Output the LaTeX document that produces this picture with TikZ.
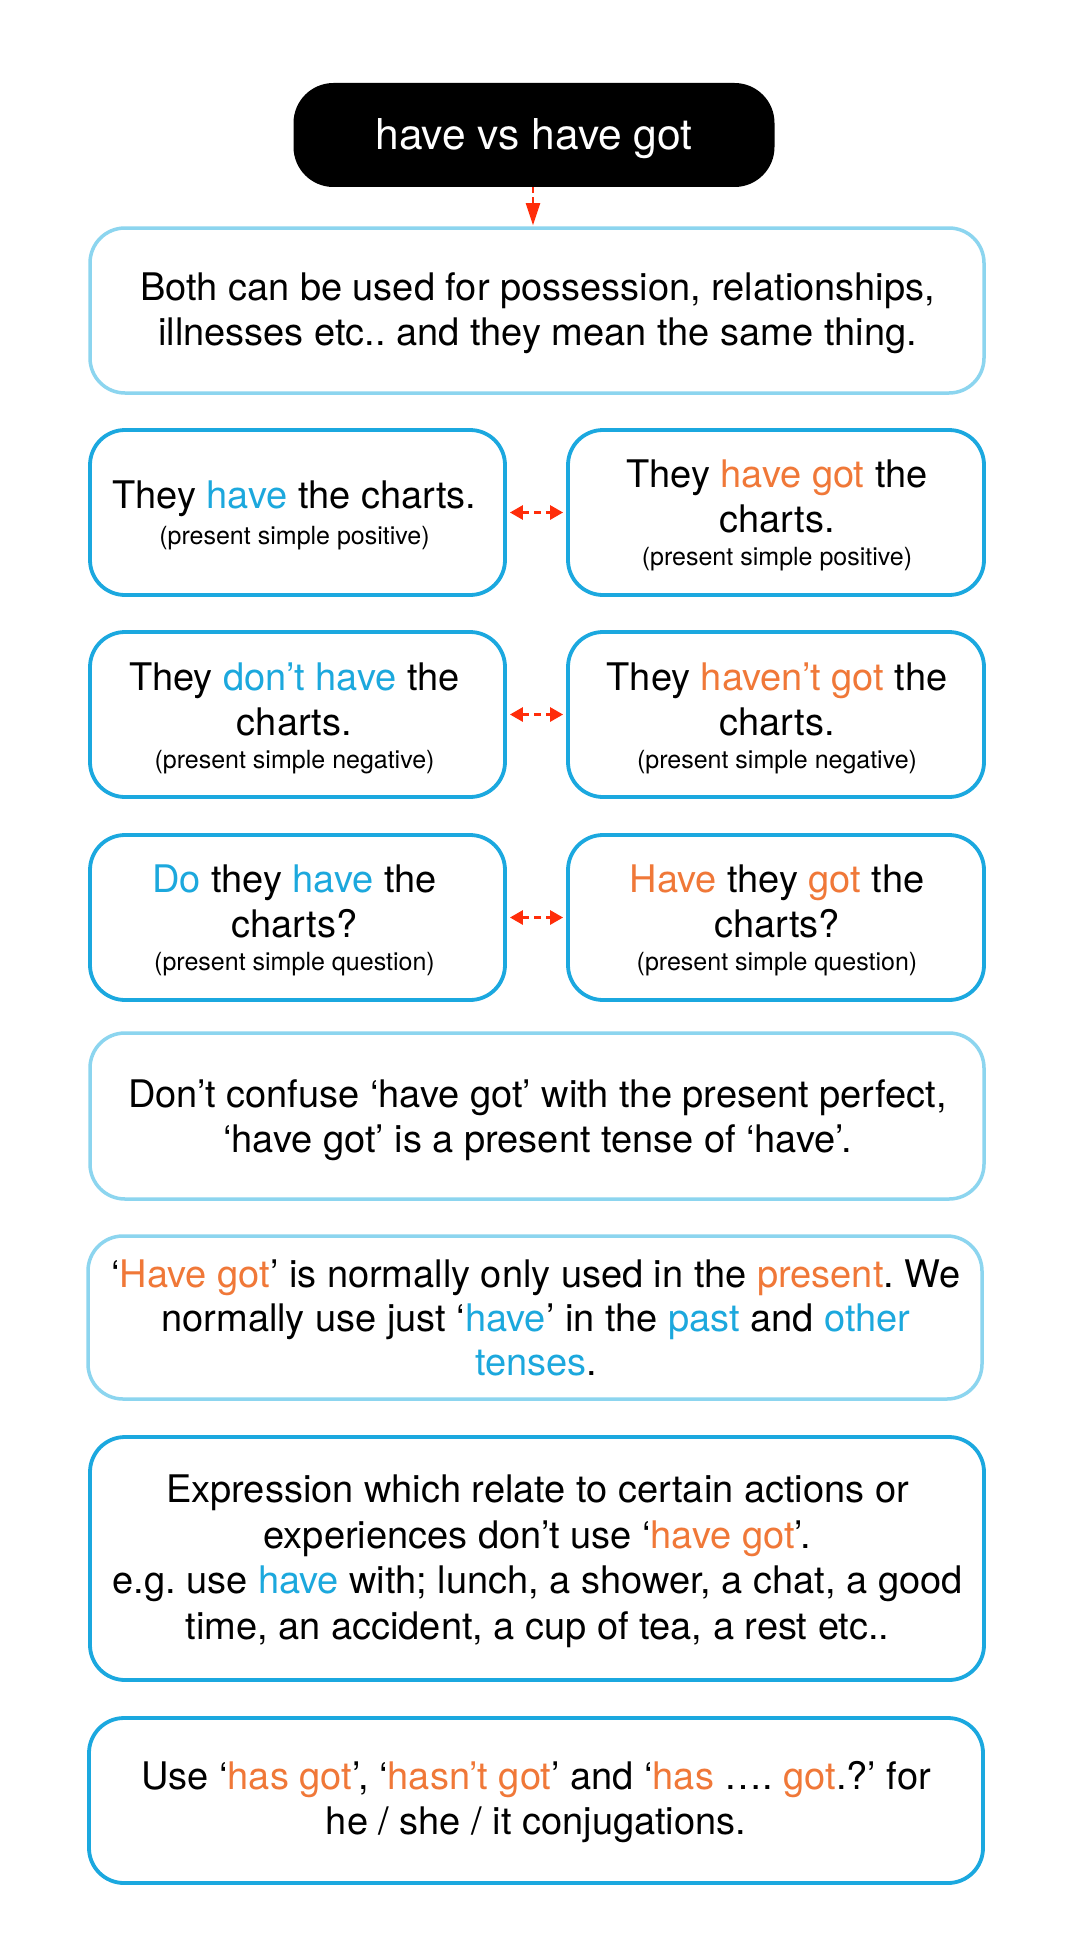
\documentclass[tikz,border=0pt]{standalone}
\usepackage{fontspec}
\setmainfont{TeX Gyre Heros}
\usetikzlibrary{arrows.meta}
\definecolor{lblue}{HTML}{8CD5EF}
\definecolor{dblue}{HTML}{1BA8DF}
\definecolor{tblue}{HTML}{1CA8DD}
\definecolor{orng}{HTML}{F07838}
\definecolor{arrred}{HTML}{FF2D0A}
\newcommand{\hlB}[1]{\textcolor{tblue}{#1}}
\newcommand{\hlO}[1]{\textcolor{orng}{#1}}
\tikzset{
  lbox/.style={draw=lblue, line width=3.5pt, rounded corners=35pt, fill=white},
  dbox/.style={draw=dblue, line width=3.8pt, rounded corners=35pt, fill=white},
  titlebox/.style={fill=black, rounded corners=40pt, inner sep=0pt},
  mtxt/.style={anchor=base, inner sep=0pt, font=\fontsize{38pt}{45pt}\selectfont},
  stxt/.style={anchor=base, inner sep=0pt, font=\fontsize{25pt}{30pt}\selectfont},
  ttxt/.style={anchor=base, inner sep=0pt, text=white, font=\fontsize{42.5pt}{50pt}\selectfont},
  dblarr/.style={draw=arrred, line width=2.8pt, dash pattern=on 7pt off 5pt,
     {Triangle[length=13pt,width=14pt]}-{Triangle[length=13pt,width=14pt]},
     shorten <=3pt, shorten >=3pt},
  downarr/.style={draw=arrred, line width=2pt, dash pattern=on 6pt off 4pt,
     -{Triangle[length=22pt,width=14pt]}, shorten >=1pt}
}
\begin{document}
\frenchspacing
\begin{tikzpicture}[x=1pt,y=-1pt]
\useasboundingbox (0,0) rectangle (1066,1945);
\fill[white] (0,0) rectangle (1066,1945);

% title
\node[titlebox, minimum width=481pt, minimum height=104pt] (t) at (534,135) {};
\node[ttxt] (tt) at (534,150) {have vs have got};

% box 1
\node[lbox, minimum width=894pt, minimum height=165pt] (b1) at (537,310.5) {};
\node[mtxt] (b1a) at (537.5,300) {Both can be used for possession, relationships,};
\node[mtxt] (b1b) at (537.5,345) {illnesses etc.. and they mean the same thing.};
\draw[downarr] (t.south -| 533,0) -- (b1.north -| 533,0);

% row boxes
\node[dbox, minimum width=415pt, minimum height=165pt] (r1l) at (297.5,512.5) {};
\node[dbox, minimum width=416pt, minimum height=165pt] (r1r) at (776,512.5) {};
\node[dbox, minimum width=415pt, minimum height=165pt] (r2l) at (297.5,714.5) {};
\node[dbox, minimum width=416pt, minimum height=165pt] (r2r) at (776,714.5) {};
\node[dbox, minimum width=415pt, minimum height=165pt] (r3l) at (297.5,917.5) {};
\node[dbox, minimum width=416pt, minimum height=165pt] (r3r) at (776,917.5) {};

\draw[dblarr] (r1l.east) -- (r1r.west);
\draw[dblarr] (r2l.east) -- (r2r.west);
\draw[dblarr] (r3l.east) -- (r3r.west);

% row 1 text
\node[mtxt] (r1la) at (294.5,508) {They \hlB{have} the charts.};
\node[stxt] (r1lb) at (294.5,544) {(present simple positive)};
\node[mtxt] (r1ra) at (777,487) {They \hlO{have got} the};
\node[mtxt] (r1rb) at (777,532) {charts.};
\node[stxt] (r1rc) at (777,565) {(present simple positive)};

% row 2 text
\node[mtxt] (r2la) at (294.5,690) {They \hlB{don’t have} the};
\node[mtxt] (r2lb) at (294.5,735) {charts.};
\node[stxt] (r2lc) at (294.5,768) {(present simple negative)};
\node[mtxt] (r2ra) at (777,690) {They \hlO{haven’t got} the};
\node[mtxt] (r2rb) at (777,735) {charts.};
\node[stxt] (r2rc) at (777,768) {(present simple negative)};

% row 3 text
\node[mtxt] (r3la) at (294.5,892) {\hlB{Do} they \hlB{have} the};
\node[mtxt] (r3lb) at (294.5,937) {charts?};
\node[stxt] (r3lc) at (294.5,970) {(present simple question)};
\node[mtxt] (r3ra) at (777,892) {\hlO{Have} they \hlO{got} the};
\node[mtxt] (r3rb) at (777,937) {charts?};
\node[stxt] (r3rc) at (777,970) {(present simple question)};

% don't confuse
\node[lbox, minimum width=894pt, minimum height=166pt] (b2) at (537,1116) {};
\node[mtxt] (b2a) at (537.5,1107) {Don’t confuse ‘have got’ with the present perfect,};
\node[mtxt] (b2b) at (537.5,1152) {‘have got’ is a present tense of ‘have’.};

% have got normally
\node[lbox, minimum width=894pt, minimum height=163pt] (b3) at (535,1317.5) {};
\node[mtxt] (b3a) at (536,1287) {‘\hlO{Have got}’ is normally only used in the \hlO{present}. We};
\node[mtxt] (b3b) at (536,1331) {normally use just ‘\hlB{have}’ in the \hlB{past} and \hlB{other}};
\node[mtxt] (b3c) at (536,1375) {\hlB{tenses}.};

% expression
\node[dbox, minimum width=894pt, minimum height=243pt] (b4) at (537,1558.5) {};
\node[mtxt] (b4a) at (537.5,1502) {Expression which relate to certain actions or};
\node[mtxt] (b4b) at (537.5,1548) {experiences don’t use ‘\hlO{have got}’.};
\node[mtxt] (b4c) at (537.5,1593) {e.g. use \hlB{have} with; lunch, a shower, a chat, a good};
\node[mtxt] (b4d) at (537.5,1639) {time, an accident, a cup of tea, a rest etc..};

% use has got
\node[dbox, minimum width=894pt, minimum height=165pt] (b5) at (536,1800.5) {};
\node[mtxt] (b5a) at (536,1789) {Use ‘\hlO{has got}’, ‘\hlO{hasn’t got}’ and ‘\hlO{has} …. \hlO{got}.?’ for};
\node[mtxt] (b5b) at (536,1834) {he / she / it conjugations.};
\end{tikzpicture}
\end{document}
